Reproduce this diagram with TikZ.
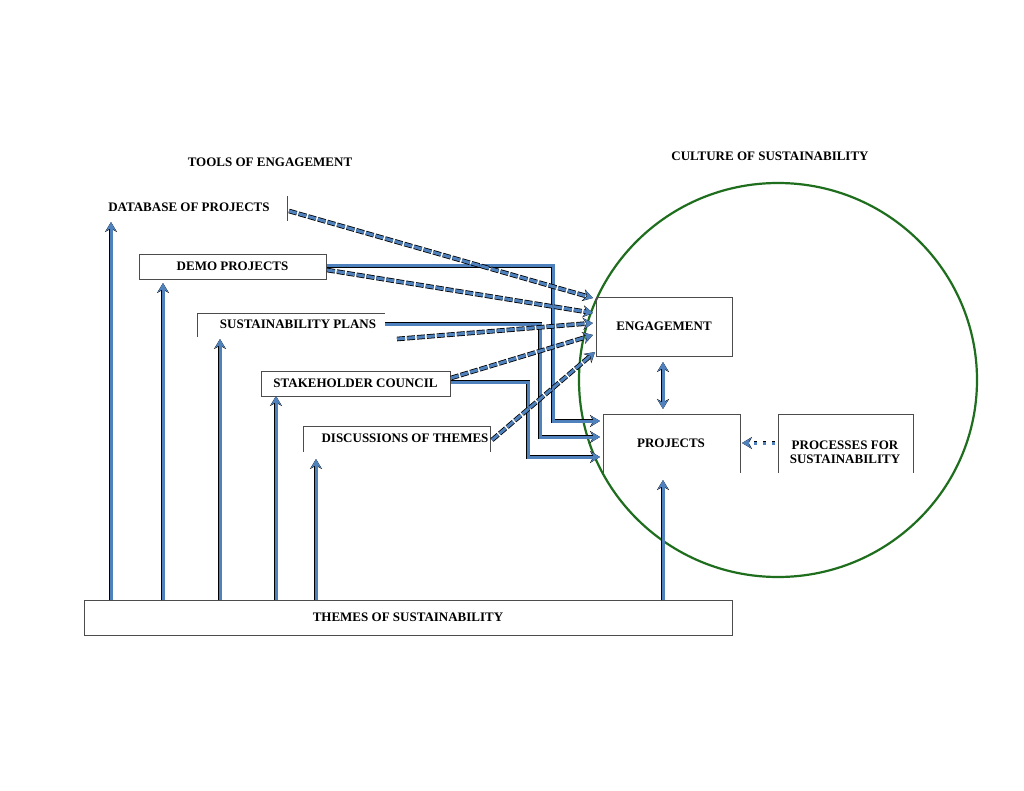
\documentclass[tikz,border=0pt]{standalone}
\usepackage{fontspec}
\setmainfont{Liberation Serif}
\usetikzlibrary{arrows.meta}
\definecolor{ab}{RGB}{79,129,189}
\definecolor{cg}{RGB}{30,110,30}
\tikzset{
 lbl/.style={font=\bfseries\fontsize{13}{14}\selectfont, inner sep=0pt, align=center},
 bx/.style={draw=black!70, line width=0.8pt},
 ar/.style={draw=ab, line width=3pt, -{Stealth[length=9pt,width=10pt]}, preaction={draw=black, line width=4.6pt, -{Stealth[length=10pt,width=12pt]}}},
 dar/.style={draw=ab, line width=3pt, -{Stealth[length=9pt,width=10pt]}, dash pattern=on 8pt off 2pt, preaction={draw=black, line width=4.6pt, dash pattern=on 8pt off 2pt, -{Stealth[length=10pt,width=12pt]}}},
 dbl/.style={draw=ab, line width=3pt, {Stealth[length=9pt,width=10pt]}-{Stealth[length=9pt,width=10pt]}, preaction={draw=black, line width=4.6pt,{Stealth[length=10pt,width=12pt]}-{Stealth[length=10pt,width=12pt]}}},
 dot/.style={draw=ab, line width=3pt, -{Stealth[length=9pt,width=10pt]}, dash pattern=on 3pt off 6pt, preaction={draw=black, line width=4.6pt, dash pattern=on 3pt off 6pt, -{Stealth[length=10pt,width=12pt]}}}
}
\begin{document}
\begin{tikzpicture}[x=1pt,y=-1pt]
\useasboundingbox (0,0) rectangle (1024,791);
\fill[white] (0,0) rectangle (1024,791);
\draw[cg, line width=2.2pt] (778,380) ellipse [x radius=199, y radius=197];
\node[lbl] (t1) at (270,162) {TOOLS OF ENGAGEMENT};
\node[lbl] (t2) at (770,156) {CULTURE OF SUSTAINABILITY};
% tool boxes
\node[lbl] (db) at (189,207) {DATABASE OF PROJECTS};
\draw[bx] (287,196) -- (287,221);
\coordinate (dbR) at (289,211);
\node[bx, minimum width=187pt, minimum height=25pt, inner sep=0pt] (demo) at (232.5,266.5) {};
\node[lbl] at (demo) {DEMO PROJECTS};
\draw[bx] (197,337) -- (197,313) -- (385,313);
\node[lbl] (plans) at (298,324) {SUSTAINABILITY PLANS};
\coordinate (plR2) at (397,339);
\node[bx, minimum width=189pt, minimum height=25pt, inner sep=0pt] (stake) at (355.5,383.5) {};
\node[lbl] at (stake) {STAKEHOLDER COUNCIL};
\draw[bx] (303,452) -- (303,426) -- (490,426) -- (490,452);
\node[lbl] (disc) at (405,438) {DISCUSSIONS OF THEMES};
\coordinate (discR) at (492,440);
% right boxes
\node[bx, minimum width=136pt, minimum height=59pt, inner sep=0pt] (eng) at (664,326.5) {};
\node[lbl] at (eng) {ENGAGEMENT};
\draw[bx] (603,473) -- (603,414) -- (740,414) -- (740,473);
\node[lbl] (proj) at (671,443) {PROJECTS};
\draw[bx] (778,473) -- (778,414) -- (913,414) -- (913,473);
\node[lbl] (proc) at (845,452) {PROCESSES FOR\\SUSTAINABILITY};
\node[bx, minimum width=648pt, minimum height=35pt, inner sep=0pt] (themes) at (408,617.5) {};
\node[lbl] at (themes) {THEMES OF SUSTAINABILITY};
% vertical arrows
\draw[ar] (111,600) -- (111,222);
\draw[ar] (163,600) -- (163,283);
\draw[ar] (220,600) -- (220,339);
\draw[ar] (276,600) -- (276,396);
\draw[ar] (316,600) -- (316,459);
\draw[ar] (663,600) -- (663,480);
\draw[dbl] (663,362) -- (663,409);
\draw[dot] (775,443) -- (742,443);
% solid elbows
\draw[ar] (327,266) -- (553,266) -- (553,421) -- (600,421);
\draw[ar] (385,324) -- (540,324) -- (540,437) -- (600,437);
\draw[ar] (451,382) -- (528,382) -- (528,457) -- (600,457);
% dashed
\draw[dar] (dbR) -- (593,298);
\draw[dar] (327,270) -- (593,313);
\draw[dar] (plR2) -- (593,323);
\draw[dar] (451,378) -- (593,335);
\draw[dar] (discR) -- (595,352);
\end{tikzpicture}
\end{document}
